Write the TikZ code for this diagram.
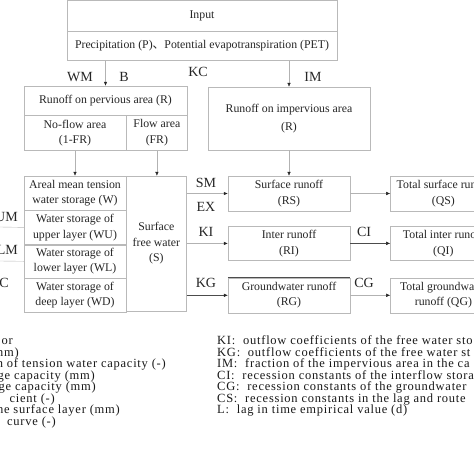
\documentclass[tikz,border=0pt]{standalone}
\usepackage{fontspec}
\setmainfont{Liberation Serif}
\newfontfamily\cjk{Noto Sans CJK SC}
\newfontfamily\legfont[LetterSpace=6]{Liberation Serif}
\usepackage{tikz}
\usetikzlibrary{arrows.meta,positioning}

\begin{document}
\begin{tikzpicture}[x=1pt,y=-1pt,
    box/.style={draw=gray!55, fill=white, align=center, inner sep=0pt,
       text=black!85, font=\fontsize{11.8}{15.5}\selectfont},
    arr/.style={-{Latex[length=4pt,width=3.5pt,color=black!85]}, draw=gray!60},
    darr/.style={arr, draw=black!70},
    lbl/.style={font=\fontsize{14}{16}\selectfont, text=black!85, inner sep=0pt},
    leg/.style={font=\legfont\fontsize{12.5}{14}\selectfont, text=black!90, inner sep=0pt,
       text height=7pt, text depth=2pt}]
  \useasboundingbox (0,0) rectangle (474,474);
  \clip (0,0) rectangle (474,474);
  % input
  \node[box, minimum width=270pt, minimum height=31pt] (inp) at (202,15.5) {Input};
  \node[box, minimum width=270pt, minimum height=29pt, below=0pt of inp] (pp)
     {Precipitation (P){\cjk 、}Potential evapotranspiration (PET)};
  % runoff generation
  \node[box, minimum width=163pt, minimum height=29pt] (perv) at (105.5,100.5)
     {Runoff on pervious area (R)};
  \node[box, minimum width=102pt, minimum height=35pt, below right=0pt of perv.south west] (nofl)
     {No-flow area\\(1-FR)};
  \node[box, minimum width=61pt, minimum height=35pt, right=0pt of nofl] (fl)
     {Flow area\\(FR)};
  \node[box, minimum width=162pt, minimum height=63pt] (imp) at (289,118.5)
     {Runoff on impervious area\\[2pt](R)};
  % storages
  \node[box, minimum width=102pt, minimum height=34pt] (w) at (75,193)
     {Areal mean tension\\water storage (W)};
  \node[box, minimum width=102pt, minimum height=34pt, below=0pt of w] (wu)
     {Water storage of\\upper layer (WU)};
  \node[box, minimum width=102pt, minimum height=33pt, below=0pt of wu] (wl)
     {Water storage of\\lower layer (WL)};
  \node[box, minimum width=102pt, minimum height=34pt, below=0pt of wl] (wd)
     {Water storage of\\deep layer (WD)};
  \node[box, minimum width=60pt, minimum height=135pt, right=0pt of w.north east, anchor=north west] (s)
     {Surface\\free water\\(S)};
  % runoff components
  \node[box, minimum width=122pt, minimum height=35pt] (rs) at (289,193.5) {Surface runoff\\(RS)};
  \node[box, minimum width=122pt, minimum height=34pt, below=15pt of rs] (ri) {Inter runoff\\(RI)};
  \node[box, minimum width=122pt, minimum height=35pt, below=17pt of ri] (rg) {Groundwater runoff\\(RG)};
  \node[box, minimum width=106pt, minimum height=35pt, right=40pt of rs] (qs) {Total surface runoff\\(QS)};
  \node[box, minimum width=106pt, minimum height=34pt, right=40pt of ri] (qi) {Total inter runoff\\(QI)};
  \node[box, minimum width=106pt, minimum height=35pt, right=40pt of rg] (qg) {Total groundwater\\runoff (QG)};
  \draw[black!70] (rg.north west) -- (rg.north east);
  % connectors
  \draw[arr] (perv.north |- pp.south) -- (perv.north);
  \draw[arr] (imp.north |- pp.south) -- (imp.north);
  \draw[arr] (nofl.south) -- (nofl.south |- w.north);
  \draw[arr] (fl.south) -- (fl.south |- s.north);
  \draw[arr] (imp.south) -- (rs.north);
  \draw[arr] (s.east |- rs.west) -- (rs.west);
  \draw[arr] (s.east |- ri.west) -- (ri.west);
  \draw[darr] (s.east |- rg.west) -- (rg.west);
  \draw[arr] (rs) -- (qs);
  \draw[darr] (ri) -- (qi);
  \draw[arr] (rg) -- (qg);
  \coordinate (um) at (0,227);
  \coordinate (lm) at (0,261);
  \draw[gray!55] (um) -- (wu.west);
  \draw[gray!55] (lm) -- (wl.west);
  % parameters
  \node[lbl] (pwm) at (80,77) {WM};
  \node[lbl] (pb) at (124,77) {B};
  \node[lbl] (pkc) at (198,72) {KC};
  \node[lbl] (pim) at (313,77) {IM};
  \node[lbl] (psm) at (206,183) {SM};
  \node[lbl] (pex) at (206,207) {EX};
  \node[lbl] (pki) at (206,232) {KI};
  \node[lbl] (pkg) at (206,283) {KG};
  \node[lbl] (pci) at (364,232) {CI};
  \node[lbl] (pcg) at (364,283) {CG};
  \node[lbl, anchor=east] (pum) at (18,217) {UM};
  \node[lbl, anchor=east] (plm) at (18,250) {LM};
  \node[lbl, anchor=east] (pc) at (9,283) {C};
  % legend
  \node[leg, anchor=east] (l1) at (13,342) {or};
  \node[leg, anchor=east] (l2) at (19,353.5) {mm)};
  \node[leg, anchor=east] (l3) at (166,365) {n of tension water capacity (-)};
  \node[leg, anchor=east] (l4) at (95,376.5) {ge capacity (mm)};
  \node[leg, anchor=east] (l5) at (96,388) {ge capacity (mm)};
  \node[leg, anchor=east] (l6) at (55,399.5) {cient (-)};
  \node[leg, anchor=east] (l7) at (120,411) {the surface layer (mm)};
  \node[leg, anchor=east] (l8) at (56,422.5) {curve (-)};
  \node[leg, anchor=west] (r1) at (217,342) {KI:\ \ outflow coefficients of the free water sto};
  \node[leg, anchor=west] (r2) at (217,353.5) {KG:\ \ outflow coefficients of the free water st};
  \node[leg, anchor=west] (r3) at (217,365) {IM:\ \ fraction of the impervious area in the ca};
  \node[leg, anchor=west] (r4) at (217,376.5) {CI:\ \ recession constants of the interflow stora};
  \node[leg, anchor=west] (r5) at (217,388) {CG:\ \ recession constants of the groundwater};
  \node[leg, anchor=west] (r6) at (217,399.5) {CS:\ \ recession constants in the lag and route};
  \node[leg, anchor=west] (r7) at (217,411) {L:\ \ lag in time empirical value (d)};
\end{tikzpicture}
\end{document}
